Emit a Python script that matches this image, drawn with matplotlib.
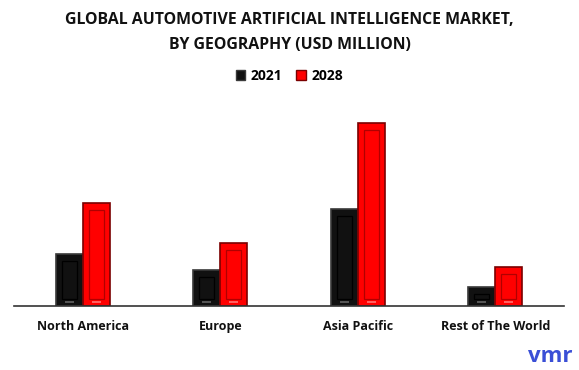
import matplotlib
matplotlib.use("Agg")
import matplotlib.pyplot as plt
import numpy as np
from matplotlib.patches import Patch

categories = ["North America", "Europe", "Asia Pacific", "Rest of The World"]
years = ["2021", "2028"]
values_2021 = [52, 36, 97, 19]
values_2028 = [103, 63, 183, 39]

plt.rcParams['font.family'] = ['Open Sans', 'DejaVu Sans']

fig = plt.figure(figsize=(5.79, 3.70), dpi=100)
ax = fig.add_axes([14/579, 64/370, 550/579, 196/370])

x = np.arange(len(categories))
w = 0.196
styles = [
    dict(face="#111111", edge="#3a3a3a", inner="#000000", hl="#555555"),
    dict(face="#ff0000", edge="#7a0000", inner="#b00000", hl="#ff6060"),
]
for i, (vals, st) in enumerate(zip([values_2021, values_2028], styles)):
    pos = x + (i - 0.5) * w
    v = np.array(vals, dtype=float)
    ax.bar(pos, v, width=w, color=st["face"], edgecolor=st["edge"], linewidth=1.2, zorder=2)
    ax.bar(pos, v - 14, bottom=7, width=w * 0.55, color="none",
           edgecolor=st["inner"], linewidth=0.9, zorder=3)
    ax.bar(pos, np.full_like(v, 2.0), bottom=3.5, width=w * 0.35,
           color=st["hl"], edgecolor="none", zorder=4)

ax.set_xlim(-0.5, len(categories) - 0.5)
ax.set_ylim(0, 196)
for s in ["top", "right", "left"]:
    ax.spines[s].set_visible(False)
ax.spines["bottom"].set_color("#333333")
ax.spines["bottom"].set_linewidth(1.2)
ax.set_yticks([])
ax.set_xticks(x)
ax.set_xticklabels(categories, fontsize=9, fontweight="bold", color="#111111")
ax.tick_params(axis="x", length=0, pad=10)

fig.text(0.5, 1 - 20/370, "GLOBAL AUTOMOTIVE ARTIFICIAL INTELLIGENCE MARKET,",
         ha="center", va="center", fontsize=11.4, fontweight="bold", color="#111111")
fig.text(0.5, 1 - 45/370, "BY GEOGRAPHY (USD MILLION)",
         ha="center", va="center", fontsize=11.4, fontweight="bold", color="#111111")

handles = [Patch(facecolor="#111111", edgecolor="#3a3a3a"),
           Patch(facecolor="#ff0000", edgecolor="#7a0000")]
fig.legend(handles, years, loc="center", bbox_to_anchor=(0.5, 1 - 76/370), ncol=2,
           frameon=False, handlelength=0.7, handleheight=0.7, handletextpad=0.4,
           columnspacing=1.0, prop=dict(size=10, weight="bold"))

fig.text(550/579, 1 - 356/370, "vmr", ha="center", va="center", fontsize=16,
         fontweight="bold", color="#3a4fd6")

fig.savefig("out.png", dpi=100, facecolor="white")
